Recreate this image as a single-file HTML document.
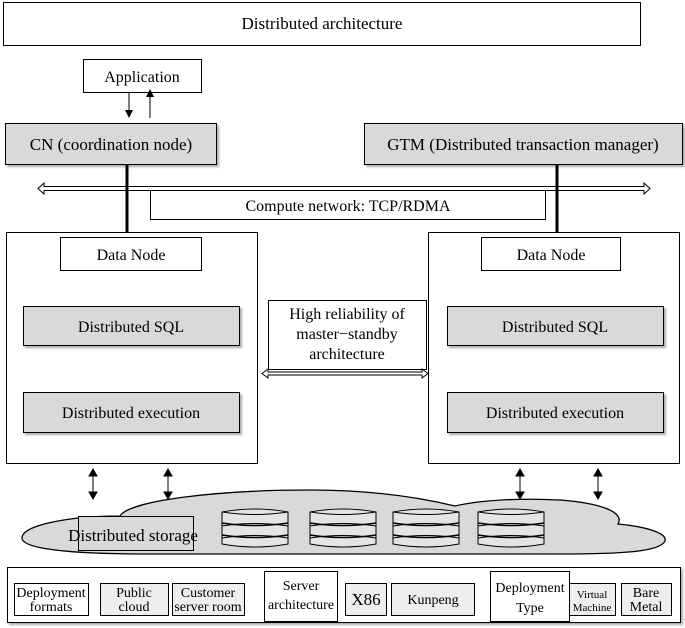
<!DOCTYPE html>
<html><head><meta charset="utf-8"><style>
html,body{margin:0;padding:0;background:#fff;}
svg{display:block;}
text{font-family:"Liberation Serif",serif;fill:#000;}
</style></head><body>
<svg width="685" height="628" viewBox="0 0 685 628" xmlns="http://www.w3.org/2000/svg">
<defs>
<filter id="sh" x="-5%" y="-5%" width="115%" height="130%"><feDropShadow dx="2" dy="2" stdDeviation="1" flood-color="#888" flood-opacity="0.7"/></filter>
<marker id="ah" markerWidth="8" markerHeight="8" refX="4" refY="4" orient="auto" markerUnits="userSpaceOnUse"><path d="M0,0 L8,4 L0,8 z" fill="#000"/></marker>
</defs>
<rect x="3.5" y="2.5" width="637" height="43" fill="#fff" stroke="#000"/>
<text x="322" y="29" font-size="17" text-anchor="middle">Distributed architecture</text>
<rect x="83.5" y="59.5" width="118" height="33" fill="#fff" stroke="#000"/>
<text x="142" y="82" font-size="16" text-anchor="middle">Application</text>
<line x1="129" y1="92" x2="129" y2="114" stroke="#000" marker-end="url(#ah)"/>
<line x1="150" y1="118" x2="150" y2="93" stroke="#000" marker-end="url(#ah)"/>
<rect x="5.5" y="123.5" width="211" height="41" fill="#d9d9d9" stroke="#000" filter="url(#sh)"/>
<text x="111" y="150" font-size="17" text-anchor="middle">CN (coordination node)</text>
<rect x="364.5" y="123.5" width="318" height="41" fill="#d9d9d9" stroke="#000" filter="url(#sh)"/>
<text x="523" y="150" font-size="17" text-anchor="middle">GTM (Distributed transaction manager)</text>
<path d="M38,188.5 L44,183 L44,186.5 L644,186.5 L644,183 L650,188.5 L644,194 L644,190.5 L44,190.5 L44,194 Z" fill="#fff" stroke="#000"/>
<rect x="150.5" y="190.5" width="395" height="29" fill="#fff" stroke="#000"/>
<text x="348" y="211" font-size="16" text-anchor="middle">Compute network: TCP/RDMA</text>
<line x1="127" y1="164" x2="127" y2="233" stroke="#000" stroke-width="3"/>
<line x1="557" y1="164" x2="557" y2="233" stroke="#000" stroke-width="3"/>
<rect x="6.5" y="232.5" width="251" height="231" fill="#fff" stroke="#000"/>
<rect x="60.5" y="237.5" width="141" height="33" fill="#fff" stroke="#000"/>
<text x="131" y="260" font-size="16" text-anchor="middle">Data Node</text>
<rect x="23.5" y="306.5" width="216" height="39" fill="#d9d9d9" stroke="#000" filter="url(#sh)"/>
<text x="131" y="332" font-size="16" text-anchor="middle">Distributed SQL</text>
<rect x="23.5" y="392.5" width="216" height="40" fill="#d9d9d9" stroke="#000" filter="url(#sh)"/>
<text x="131" y="418" font-size="16" text-anchor="middle">Distributed execution</text>
<rect x="428.5" y="232.5" width="251" height="231" fill="#fff" stroke="#000"/>
<rect x="481.5" y="237.5" width="139" height="33" fill="#fff" stroke="#000"/>
<text x="551" y="260" font-size="16" text-anchor="middle">Data Node</text>
<rect x="447.5" y="306.5" width="216" height="39" fill="#d9d9d9" stroke="#000" filter="url(#sh)"/>
<text x="555" y="332" font-size="16" text-anchor="middle">Distributed SQL</text>
<rect x="447.5" y="392.5" width="216" height="40" fill="#d9d9d9" stroke="#000" filter="url(#sh)"/>
<text x="555" y="418" font-size="16" text-anchor="middle">Distributed execution</text>
<rect x="268.5" y="300.5" width="158" height="69" fill="#fff" stroke="#000"/>
<text x="347" y="319" font-size="16" text-anchor="middle">High reliability of</text>
<text x="347" y="339" font-size="16" text-anchor="middle">master−standby</text>
<text x="347" y="359" font-size="16" text-anchor="middle">architecture</text>
<path d="M262,373.5 L268,369 L268,372 L422,372 L422,369 L428,373.5 L422,378 L422,375 L268,375 L268,378 Z" fill="#fff" stroke="#000"/>
<g stroke="#000" fill="#000">
<line x1="93" y1="474" x2="93" y2="494"/><path d="M89,476 L93,469 L97,476Z"/><path d="M89,492 L93,499 L97,492Z"/>
<line x1="168" y1="474" x2="168" y2="494"/><path d="M164,476 L168,469 L172,476Z"/><path d="M164,492 L168,499 L172,492Z"/>
<line x1="520" y1="474" x2="520" y2="494"/><path d="M516,476 L520,469 L524,476Z"/><path d="M516,492 L520,499 L524,492Z"/>
<line x1="598" y1="474" x2="598" y2="494"/><path d="M594,476 L598,469 L602,476Z"/><path d="M594,492 L598,499 L602,492Z"/>
</g>
<path d="M120,516 C130,500 220,490 310,490 C380,490 430,500 455,506 C480,500 520,498 560,500 C600,503 625,512 618,524 C640,526 668,532 665,541 C660,552 620,554 560,554 L150,554 C80,554 22,550 22,538 C22,525 70,516 120,516 Z" fill="#d9d9d9" stroke="#000" stroke-width="1.3"/>
<rect x="78.5" y="516.5" width="115" height="34" fill="#d9d9d9" stroke="#000"/>
<text x="133" y="541" font-size="17" text-anchor="middle">Distributed storage</text>
<g id="db" fill="#e4e4e4" stroke="#000">
<path d="M222,512 L222,544 Q255,550 288,544 L288,512 Q255,506 222,512 Z"/>
<path d="M222,512 Q255,517 288,512" fill="none"/>
<path d="M222,523 Q255,528 288,523" fill="none" stroke-width="1.6"/>
<path d="M222,526 Q255,521 288,526" fill="none"/>
<path d="M222,535 Q255,540 288,535" fill="none" stroke-width="1.6"/>
<path d="M222,538 Q255,533 288,538" fill="none"/>
</g>
<use href="#db" x="88"/><use href="#db" x="171"/><use href="#db" x="256"/>
<rect x="7.5" y="567.5" width="673" height="55" fill="#fff" stroke="#000" filter="url(#sh)"/>
<g stroke="#000" font-size="14">
<rect x="14.5" y="583.5" width="74" height="32" fill="#fff"/>
<rect x="100.5" y="583.5" width="68" height="32" fill="#eee"/>
<rect x="172.5" y="583.5" width="72" height="32" fill="#eee"/>
<rect x="264.5" y="571.5" width="73" height="50" fill="#fff"/>
<rect x="345.5" y="583.5" width="41" height="32" fill="#eee"/>
<rect x="391.5" y="583.5" width="83" height="32" fill="#eee"/>
<rect x="490.5" y="571.5" width="79" height="50" fill="#fff"/>
<rect x="569.5" y="583.5" width="46" height="32" fill="#eee"/>
<rect x="621.5" y="583.5" width="50" height="32" fill="#eee"/>
</g>
<g font-size="14" text-anchor="middle">
<text x="51" y="597">Deployment</text><text x="51" y="611">formats</text>
<text x="134" y="597">Public</text><text x="134" y="611">cloud</text>
<text x="208" y="597">Customer</text><text x="208" y="611">server room</text>
<text x="301" y="590">Server</text><text x="301" y="609">architecture</text>
<text x="366" y="605" font-size="17">X86</text>
<text x="433" y="604">Kunpeng</text>
<text x="530" y="592">Deployment</text><text x="530" y="612">Type</text>
<text x="592" y="598" font-size="11">Virtual</text><text x="592" y="611" font-size="11">Machine</text>
<text x="646" y="597">Bare</text><text x="646" y="611">Metal</text>
</g>
</svg>
</body></html>
